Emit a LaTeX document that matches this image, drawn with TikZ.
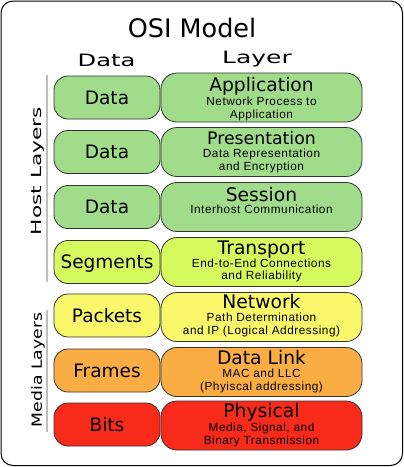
\documentclass[tikz,border=0pt]{standalone}
\usepackage{fontspec}
\setmainfont{DejaVu Sans}
\newfontfamily\subfnt[LetterSpace=4.5]{Liberation Sans}
\usetikzlibrary{calc}
\definecolor{cgreen}{HTML}{A1DC8A}
\definecolor{ctrans}{HTML}{D6FA5D}
\definecolor{cnet}{HTML}{FAF86A}
\definecolor{clink}{HTML}{FAAD43}
\definecolor{cphys}{HTML}{F82A1A}
\definecolor{cedge}{HTML}{333333}
\definecolor{cbar}{HTML}{BEBEBE}
\tikzset{
  lbox/.style={draw=cedge, line width=0.8pt, rounded corners=14pt, minimum width=106pt, minimum height=43pt, inner sep=0pt, font=\fontsize{18.5}{20}\selectfont, text height=13.5pt, text depth=0pt},
  rbox/.style={draw=cedge, line width=0.8pt, rounded corners=16pt, minimum width=201pt, minimum height=49pt, inner sep=0pt},
  ttl/.style={anchor=base, inner sep=0pt, font=\fontsize{18.7}{20}\selectfont},
  sub/.style={anchor=base, inner sep=0pt, font=\subfnt\fontsize{11.8}{13}\selectfont},
  side/.style={rotate=90, inner sep=0pt, font=\fontsize{14}{16}\selectfont},
  bar/.style={draw=cbar, line width=2.5pt},
}
\begin{document}
\begin{tikzpicture}[x=1pt,y=-1pt]
\useasboundingbox (0,0) rectangle (404,467);
\draw[line width=1pt, rounded corners=12pt] (1,1) rectangle (402.5,465.5);

% title and headers
\node[anchor=base, inner sep=0pt, font=\fontsize{25.5}{30}\selectfont] (title) at (192,37) {OSI Model};
\node[anchor=base, inner sep=0pt, font=\fontsize{17}{20}\selectfont] (hdata) at (106.5,66) {\scalebox{1.42}[1]{Data}};
\node[anchor=base, inner sep=0pt, font=\fontsize{17}{20}\selectfont] (hlayer) at (257,63) {\scalebox{1.47}[1]{Layer}};

% side labels
\coordinate (h1) at (47,75);
\coordinate (h2) at (47,282);
\coordinate (m1) at (47,310);
\coordinate (m2) at (47,432);
\draw[bar] (h1) -- (h2);
\draw[bar] (m1) -- (m2);
\node[side] (host) at (38,171) {\scalebox{1.55}[1]{Host Layers}};
\node[side] (media) at (38,370) {\scalebox{1.23}[1]{Media Layers}};

% row 1
\node[lbox, fill=cgreen] (l1) at (107,97.5) {Data};
\node[rbox, fill=cgreen] (r1) at (261.5,97.5) {};
\node[ttl] (r1t) at ($(r1.center)+(0,-6)$) {Application};
\node[sub] (r1a) at ($(r1.center)+(0,8.3)$) {Network Process to};
\node[sub] (r1b) at ($(r1.center)+(0,20.6)$) {Application};

% row 2
\node[lbox, fill=cgreen] (l2) at (107,152) {Data};
\node[rbox, fill=cgreen] (r2) at (261.5,152) {};
\node[ttl, font=\fontsize{17.3}{20}\selectfont] (r2t) at ($(r2.center)+(0,-7.5)$) {Presentation};
\node[sub] (r2a) at ($(r2.center)+(0,5.5)$) {Data Representation};
\node[sub] (r2b) at ($(r2.center)+(0,18)$) {and Encryption};

% row 3
\node[lbox, fill=cgreen] (l3) at (107,207) {Data};
\node[rbox, fill=cgreen] (r3) at (261.5,207) {};
\node[ttl] (r3t) at ($(r3.center)+(0,-6)$) {Session};
\node[sub] (r3a) at ($(r3.center)+(0,6)$) {Interhost Communication};

% row 4
\node[lbox, fill=ctrans] (l4) at (107,262) {Segments};
\node[rbox, fill=ctrans] (r4) at (261.5,262) {};
\node[ttl] (r4t) at ($(r4.center)+(0,-8)$) {Transport};
\node[sub] (r4a) at ($(r4.center)+(0,5.3)$) {End-to-End Connections};
\node[sub] (r4b) at ($(r4.center)+(0,17.8)$) {and Reliability};

% row 5
\node[lbox, fill=cnet] (l5) at (107,315.5) {Packets};
\node[rbox, fill=cnet] (r5) at (261.5,317) {};
\node[ttl] (r5t) at ($(r5.center)+(0,-8.5)$) {Network};
\node[sub] (r5a) at ($(r5.center)+(0,4.5)$) {Path Determination};
\node[sub] (r5b) at ($(r5.center)+(0,17)$) {and IP (Logical Addressing)};

% row 6
\node[lbox, fill=clink] (l6) at (107,370.5) {Frames};
\node[rbox, fill=clink] (r6) at (261.5,372) {};
\node[ttl] (r6t) at ($(r6.center)+(0,-7.5)$) {Data Link};
\node[sub] (r6a) at ($(r6.center)+(0,5.5)$) {MAC and LLC};
\node[sub] (r6b) at ($(r6.center)+(0,18.5)$) {(Phyiscal addressing)};

% row 7
\node[lbox, fill=cphys] (l7) at (107,424.5) {Bits};
\node[rbox, fill=cphys] (r7) at (261.5,425.5) {};
\node[ttl] (r7t) at ($(r7.center)+(0,-8)$) {Physical};
\node[sub] (r7a) at ($(r7.center)+(0,6)$) {Media, Signal, and};
\node[sub] (r7b) at ($(r7.center)+(0,18.5)$) {Binary Transmission};
\end{tikzpicture}
\end{document}
